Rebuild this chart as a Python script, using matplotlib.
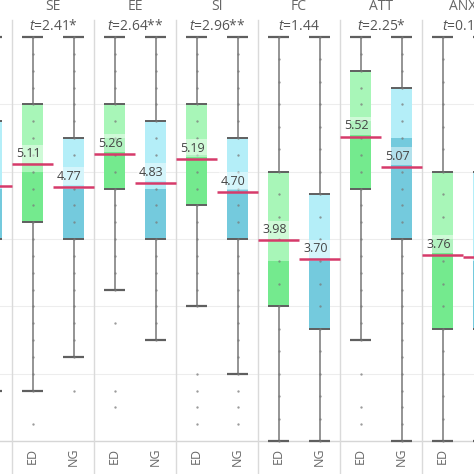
import matplotlib
matplotlib.use('Agg')
import matplotlib.pyplot as plt
import matplotlib.transforms as mtrans

plt.rcParams['font.family'] = ['Open Sans', 'DejaVu Sans']
plt.rcParams['mathtext.fontset'] = 'custom'
plt.rcParams['mathtext.it'] = 'Open Sans:italic'
plt.rcParams['mathtext.rm'] = 'Open Sans'

# facets (the first one is cut off at the left edge of the picture)
facets = ['PE', 'SE', 'EE', 'SI', 'FC', 'ATT', 'ANX']
t_labels = ['', '$t$=2.41*', '$t$=2.64**', '$t$=2.96**', '$t$=1.44', '$t$=2.25*', '$t$=0.13']

# one entry per column (group inside facet)
col_facet = ['PE', 'SE', 'SE', 'EE', 'EE', 'SI', 'SI', 'FC', 'FC', 'ATT', 'ATT', 'ANX', 'ANX']
col_group = ['NG', 'ED', 'NG', 'ED', 'NG', 'ED', 'NG', 'ED', 'NG', 'ED', 'NG', 'ED', 'NG']
whislo = [1.75, 1.75, 2.25, 3.25, 2.5, 3.0, 2.0, 1.0, 1.0, 2.5, 1.0, 1.0, 1.0]
q1 = [4.0, 4.25, 4.0, 4.75, 4.0, 4.5, 4.0, 3.0, 2.67, 4.75, 4.0, 2.67, 2.67]
med = [4.75, 5.0, 4.75, 5.5, 4.75, 5.25, 4.75, 3.67, 3.67, 5.75, 5.5, 4.0, 3.67]
q3 = [5.75, 6.0, 5.5, 6.0, 5.75, 6.0, 5.5, 5.0, 4.67, 6.5, 6.25, 5.0, 5.0]
whishi = [7.0, 7.0, 7.0, 7.0, 7.0, 7.0, 7.0, 7.0, 7.0, 7.0, 7.0, 7.0, 7.0]
means = [4.78, 5.11, 4.77, 5.26, 4.83, 5.19, 4.70, 3.98, 3.70, 5.52, 5.07, 3.76, 3.73]
outliers = [[], [1.25], [1.75], [1.5, 1.75, 2.75], [], [1.25, 1.5, 1.75, 2.0],
            [1.25, 1.5, 1.75], [], [], [1.25, 1.5, 2.0], [], [], []]

# answer scale values (4-item scales -> quarters, 3-item scales -> thirds)
quarters = [1.0, 1.25, 1.5, 1.75, 2.0, 2.25, 2.5, 2.75, 3.0, 3.25, 3.5, 3.75, 4.0,
            4.25, 4.5, 4.75, 5.0, 5.25, 5.5, 5.75, 6.0, 6.25, 6.5, 6.75, 7.0]
thirds = [1.0, 1.33, 1.67, 2.0, 2.33, 2.67, 3.0, 3.33, 3.67, 4.0, 4.33, 4.67, 5.0,
          5.33, 5.67, 6.0, 6.33, 6.67, 7.0]
thirds_facets = ['FC', 'ANX']

colors = {'ED': ('#74ea8e', '#a8f6b8'), 'NG': ('#74cadd', '#b4eef8')}

fig = plt.figure(figsize=(4.74, 4.74), dpi=100)
ax = fig.add_axes([0, 33 / 474, 1, 404 / 474])
ax.set_xlim(-32.5 / 41, (474 - 32.5) / 41)
ax.set_ylim(1, 7)
ax.axis('off')
trans = mtrans.blended_transform_factory(ax.transData, ax.transAxes)

for v in [2, 3, 4, 5, 6]:
  ax.axhline(v, color='#ededed', lw=0.8, zorder=0)
ax.axhline(1, color='#d6d6d6', lw=1.0, zorder=0.5, clip_on=False)

for j in range(len(facets)):
  left = 2 * j - 2.5
  ax.axvline(left, ymin=-0.1, ymax=1 + 17 / 404, color='#dadada', lw=1.0, clip_on=False, zorder=0.5)
  center = 2 * j - 1.5
  ax.text(center, 1 + 30 / 404, facets[j], transform=trans, ha='center', va='center',
          fontsize=10, color='#666666')
  ax.text(center, 1 + 10 / 404, t_labels[j], transform=trans, ha='center', va='center',
          fontsize=10, color='#555555')

bw = 0.52
for i in range(len(col_group)):
  x = i - 1
  dark, light = colors[col_group[i]]
  ax.bar(x, med[i] - q1[i], bottom=q1[i], width=bw, color=dark, zorder=2)
  ax.bar(x, q3[i] - med[i], bottom=med[i], width=bw, color=light, zorder=2)
  ax.hlines([q1[i], q3[i]], x - bw / 2, x + bw / 2, color='#5f5f5f', lw=1.4, zorder=3)
  ax.vlines(x, whislo[i], q1[i], color='#777777', lw=1.1, zorder=1)
  ax.vlines(x, q3[i], whishi[i], color='#777777', lw=1.1, zorder=1, clip_on=False)
  ax.hlines([whislo[i], whishi[i]], x - bw / 2, x + bw / 2, color='#5f5f5f', lw=1.6,
            zorder=3, clip_on=False)
  scale = thirds if col_facet[i] in thirds_facets else quarters
  pts = [v for v in scale if whislo[i] <= v <= whishi[i]] + outliers[i]
  ax.plot([x] * len(pts), pts, 'o', ms=1.7, color='#7a7a7a', mec='none', alpha=0.75,
          zorder=4, clip_on=False)
  ax.hlines(means[i], x - 0.5, x + 0.5, color='#d63a6a', lw=1.8, zorder=5)
  if i > 0:
    ax.annotate(f'{means[i]:.2f}', (x - 0.1, means[i]), xytext=(0, 3), textcoords='offset points',
                ha='center', va='bottom', fontsize=9, color='#444444', zorder=6,
                bbox=dict(boxstyle='square,pad=0.2', fc='white', ec='none', alpha=0.45))
  ax.text(x, -7 / 404, col_group[i], transform=trans, rotation=90, ha='center', va='top',
          fontsize=9, color='#666666')

fig.savefig('out.png', dpi=100)
